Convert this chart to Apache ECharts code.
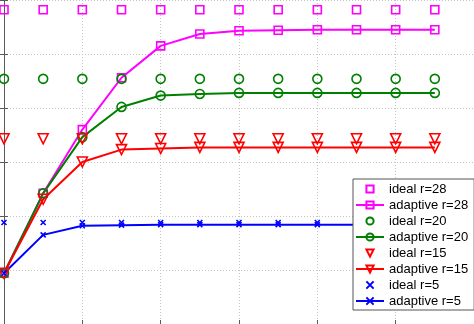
<!DOCTYPE html>
<html>
<head>
<meta charset="utf-8">
<script src="https://cdn.jsdelivr.net/npm/echarts@6/dist/echarts.min.js"></script>
<style>
  html, body { margin: 0; padding: 0; background: #fff; }
  #chart { width: 474px; height: 324px; }
</style>
</head>
<body>
<div id="chart"></div>
<script>
// iteration index on the horizontal axis
const steps = [0, 1, 2, 3, 4, 5, 6, 7, 8, 9, 10, 11];

// ideal (constant) levels and adaptive convergence for each r
const ideal28    = [5.82, 5.82, 5.82, 5.82, 5.82, 5.82, 5.82, 5.82, 5.82, 5.82, 5.82, 5.82];
const adaptive28 = [0.94, 2.42, 3.60, 4.56, 5.15, 5.37, 5.43, 5.44, 5.45, 5.45, 5.45, 5.45];
const ideal20    = [4.54, 4.54, 4.54, 4.54, 4.54, 4.54, 4.54, 4.54, 4.54, 4.54, 4.54, 4.54];
const adaptive20 = [0.94, 2.42, 3.46, 4.02, 4.23, 4.26, 4.28, 4.28, 4.28, 4.28, 4.28, 4.28];
const ideal15    = [3.43, 3.43, 3.43, 3.43, 3.43, 3.43, 3.43, 3.43, 3.43, 3.43, 3.43, 3.43];
const adaptive15 = [0.94, 2.31, 3.00, 3.23, 3.25, 3.27, 3.27, 3.27, 3.27, 3.27, 3.27, 3.27];
const ideal5     = [1.88, 1.88, 1.88, 1.88, 1.88, 1.88, 1.88, 1.88, 1.88, 1.88, 1.88, 1.88];
const adaptive5  = [0.94, 1.65, 1.82, 1.83, 1.84, 1.84, 1.84, 1.84, 1.84, 1.84, 1.84, 1.84];

const seriesNames = ['ideal r=28', 'adaptive r=28', 'ideal r=20', 'adaptive r=20',
                     'ideal r=15', 'adaptive r=15', 'ideal r=5', 'adaptive r=5'];

const MAGENTA = '#ff00ff', GREEN = '#008000', RED = '#ff0000', BLUE = '#0000ff';
const CROSS = 'path://M0,0L10,10M10,0L0,10';

function pairs(ys) { return steps.map((x, i) => [x, ys[i]]); }

// markers only: a line series whose connecting line is hidden,
// so the legend icon is the bare marker at its real size
function idealSeries(name, ys, color, symbol, size, rotate) {
  return {
    name, type: 'line', data: pairs(ys),
    symbol, symbolSize: size, symbolRotate: rotate || 0, showAllSymbol: true,
    lineStyle: { color, width: 1, opacity: 0 },
    itemStyle: { color: 'rgba(0,0,0,0)', borderColor: color, borderWidth: 1.6 },
    emphasis: { disabled: true }
  };
}
function adaptiveSeries(name, ys, color, symbol, size, rotate) {
  return {
    name, type: 'line', data: pairs(ys),
    symbol, symbolSize: size, symbolRotate: rotate || 0, showAllSymbol: true,
    lineStyle: { color, width: 2 },
    itemStyle: { color: 'rgba(0,0,0,0)', borderColor: color, borderWidth: 1.6 },
    emphasis: { disabled: true }
  };
}

const chart = echarts.init(document.getElementById('chart'), null, { renderer: 'canvas' });

const gridLine = { show: true, lineStyle: { color: '#c4c4c4', width: 1, type: [1, 2] } };
const axisLineStyle = { show: true, lineStyle: { color: '#5a5a5a', width: 1 } };
const tickStyle = { show: true, inside: true, length: 4, lineStyle: { color: '#5a5a5a' } };

chart.setOption({
  animation: false,
  backgroundColor: '#fff',
  grid: { left: 4, right: 0, top: -1, bottom: 0, containLabel: false },
  xAxis: [
    { type: 'value', min: 0, max: 12, interval: 2, position: 'bottom',
      axisLine: axisLineStyle, axisTick: tickStyle, axisLabel: { show: false }, splitLine: gridLine },
    { type: 'value', min: 0, max: 12, interval: 2, position: 'top',
      axisLine: axisLineStyle, axisTick: tickStyle, axisLabel: { show: false }, splitLine: { show: false } }
  ],
  yAxis: [
    { type: 'value', min: 0, max: 6, interval: 1, position: 'left',
      axisLine: axisLineStyle, axisTick: tickStyle, axisLabel: { show: false }, splitLine: gridLine },
    { type: 'value', min: 0, max: 6, interval: 1, position: 'right',
      axisLine: axisLineStyle, axisTick: tickStyle, axisLabel: { show: false }, splitLine: { show: false } }
  ],
  legend: {
    data: seriesNames,
    orient: 'vertical',
    left: 353, top: 179,
    padding: [3, 6, 2, 2],
    itemWidth: 28, itemHeight: 9, itemGap: 2,
    backgroundColor: '#fff',
    borderColor: '#555', borderWidth: 1, borderRadius: 0,
    selectedMode: false,
    textStyle: { fontFamily: 'Liberation Sans, Arial, sans-serif', fontSize: 13, color: '#000', lineHeight: 14 }
  },
  series: [
    idealSeries(seriesNames[0], ideal28, MAGENTA, 'rect', 8),
    adaptiveSeries(seriesNames[1], adaptive28, MAGENTA, 'rect', 8),
    idealSeries(seriesNames[2], ideal20, GREEN, 'circle', 9),
    adaptiveSeries(seriesNames[3], adaptive20, GREEN, 'circle', 9),
    idealSeries(seriesNames[4], ideal15, RED, 'triangle', 10, 180),
    adaptiveSeries(seriesNames[5], adaptive15, RED, 'triangle', 10, 180),
    idealSeries(seriesNames[6], ideal5, BLUE, CROSS, 5),
    adaptiveSeries(seriesNames[7], adaptive5, BLUE, CROSS, 5)
  ]
});
</script>
</body>
</html>
